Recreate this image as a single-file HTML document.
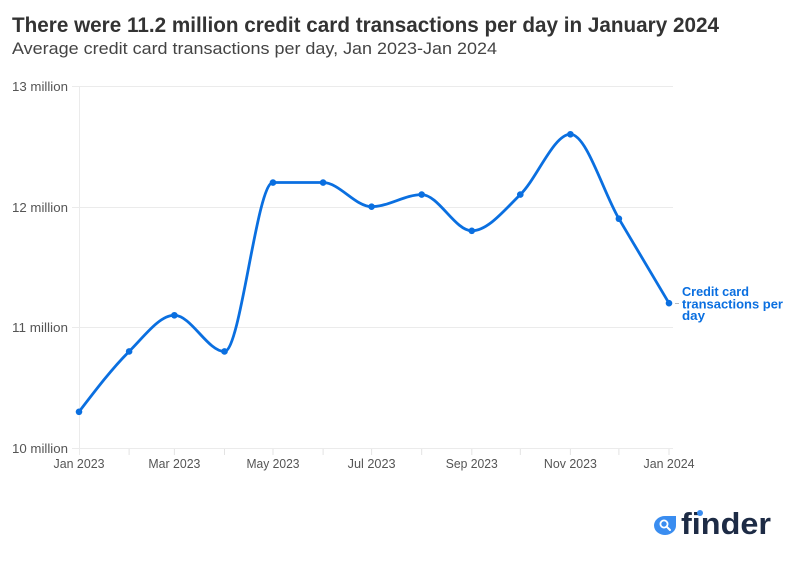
<!DOCTYPE html>
<html>
<head>
<meta charset="utf-8">
<style>
  html, body { margin:0; padding:0; background:#ffffff; }
  body { width:796px; height:575px; overflow:hidden; }
  svg { display:block; }
  text { font-family: "Liberation Sans", "DejaVu Sans", sans-serif; }
</style>
</head>
<body>
<svg width="796" height="575" viewBox="0 0 796 575" xmlns="http://www.w3.org/2000/svg">
  <rect x="0" y="0" width="796" height="575" fill="#ffffff"/>

  <!-- Title -->
  <text x="12" y="32" font-size="21.5" font-weight="bold" fill="#333333" textLength="707" lengthAdjust="spacingAndGlyphs">There were 11.2 million credit card transactions per day in January 2024</text>
  <text x="12" y="54" font-size="17" fill="#444444" textLength="485" lengthAdjust="spacingAndGlyphs">Average credit card transactions per day, Jan 2023-Jan 2024</text>

  <!-- Gridlines -->
  <g stroke="#ebebeb" stroke-width="1">
    <line x1="72" y1="86.5" x2="673" y2="86.5"/>
    <line x1="72" y1="207.5" x2="673" y2="207.5"/>
    <line x1="72" y1="327.5" x2="673" y2="327.5"/>
    <line x1="72" y1="448.5" x2="673" y2="448.5"/>
    <line x1="79.5" y1="86" x2="79.5" y2="455"/>
  </g>

  <!-- X ticks -->
  <g stroke="#e3e3e3" stroke-width="1">
    <line x1="129.1" y1="449" x2="129.1" y2="455"/>
    <line x1="174.4" y1="449" x2="174.4" y2="455"/>
    <line x1="224.5" y1="449" x2="224.5" y2="455"/>
    <line x1="273" y1="449" x2="273" y2="455"/>
    <line x1="323.1" y1="449" x2="323.1" y2="455"/>
    <line x1="371.6" y1="449" x2="371.6" y2="455"/>
    <line x1="421.7" y1="449" x2="421.7" y2="455"/>
    <line x1="471.8" y1="449" x2="471.8" y2="455"/>
    <line x1="520.3" y1="449" x2="520.3" y2="455"/>
    <line x1="570.4" y1="449" x2="570.4" y2="455"/>
    <line x1="618.9" y1="449" x2="618.9" y2="455"/>
    <line x1="669" y1="449" x2="669" y2="455"/>
  </g>

  <!-- Y labels -->
  <g font-size="13" fill="#555555" text-anchor="end">
    <text x="68" y="91" textLength="56" lengthAdjust="spacingAndGlyphs">13 million</text>
    <text x="68" y="212" textLength="56" lengthAdjust="spacingAndGlyphs">12 million</text>
    <text x="68" y="332" textLength="56" lengthAdjust="spacingAndGlyphs">11 million</text>
    <text x="68" y="453" textLength="56" lengthAdjust="spacingAndGlyphs">10 million</text>
  </g>

  <!-- X labels -->
  <g font-size="13" fill="#555555" text-anchor="middle">
    <text x="79" y="468" textLength="51" lengthAdjust="spacingAndGlyphs">Jan 2023</text>
    <text x="174.4" y="468" textLength="52" lengthAdjust="spacingAndGlyphs">Mar 2023</text>
    <text x="273" y="468" textLength="53" lengthAdjust="spacingAndGlyphs">May 2023</text>
    <text x="371.6" y="468" textLength="48" lengthAdjust="spacingAndGlyphs">Jul 2023</text>
    <text x="471.8" y="468" textLength="52" lengthAdjust="spacingAndGlyphs">Sep 2023</text>
    <text x="570.4" y="468" textLength="53" lengthAdjust="spacingAndGlyphs">Nov 2023</text>
    <text x="669" y="468" textLength="51" lengthAdjust="spacingAndGlyphs">Jan 2024</text>
  </g>

  <!-- Series line (monotone-x) -->
  <path fill="none" stroke="#0a6fe0" stroke-width="2.8" stroke-linejoin="round" stroke-linecap="round"
    d="M79,411.8
       C95.70,389.92 112.41,368.03 129.11,351.47
       C144.20,336.51 159.28,315.27 174.37,315.27
       C191.07,315.27 207.78,351.47 224.48,351.47
       C240.64,351.47 256.81,182.53 272.97,182.53
       C289.67,182.53 306.38,182.53 323.08,182.53
       C339.25,182.53 355.41,206.67 371.58,206.67
       C388.28,206.67 404.98,194.6 421.68,194.6
       C438.38,194.6 455.09,230.8 471.79,230.8
       C487.96,230.8 504.12,210.31 520.29,194.6
       C536.99,178.38 553.70,134.27 570.40,134.27
       C586.56,134.27 602.73,191.03 618.89,218.73
       C635.59,247.36 652.30,275.29 669,303.2"/>

  <!-- Points -->
  <g fill="#0a6fe0">
    <circle cx="79" cy="411.8" r="3.3"/>
    <circle cx="129.11" cy="351.47" r="3.3"/>
    <circle cx="174.37" cy="315.27" r="3.3"/>
    <circle cx="224.48" cy="351.47" r="3.3"/>
    <circle cx="272.97" cy="182.53" r="3.3"/>
    <circle cx="323.08" cy="182.53" r="3.3"/>
    <circle cx="371.58" cy="206.67" r="3.3"/>
    <circle cx="421.68" cy="194.6" r="3.3"/>
    <circle cx="471.79" cy="230.8" r="3.3"/>
    <circle cx="520.29" cy="194.6" r="3.3"/>
    <circle cx="570.40" cy="134.27" r="3.3"/>
    <circle cx="618.89" cy="218.73" r="3.3"/>
    <circle cx="669" cy="303.2" r="3.3"/>
  </g>

  <!-- Series label -->
  <line x1="675" y1="303.5" x2="679" y2="303.5" stroke="#bbbbbb" stroke-width="1"/>
  <g font-size="13" font-weight="bold" fill="#0a6fe0">
    <text x="682" y="296" textLength="67" lengthAdjust="spacingAndGlyphs">Credit card</text>
    <text x="682" y="308.5" textLength="101" lengthAdjust="spacingAndGlyphs">transactions per</text>
    <text x="682" y="320" textLength="23" lengthAdjust="spacingAndGlyphs">day</text>
  </g>

  <!-- finder logo -->
  <g>
    <path d="M676,516 L676,525 A11,9.5 0 1 1 665,516 Z" fill="#3a8df0"/>
    <circle cx="664" cy="524" r="3.6" fill="none" stroke="#ffffff" stroke-width="1.8"/>
    <line x1="666.6" y1="526.6" x2="670" y2="530" stroke="#ffffff" stroke-width="2" stroke-linecap="round"/>
    <text x="681" y="534" font-size="31" font-weight="bold" fill="#1d2b45" textLength="90" lengthAdjust="spacingAndGlyphs">finder</text>
    <circle cx="700" cy="513" r="3" fill="#3a8df0"/>
  </g>
</svg>
</body>
</html>
